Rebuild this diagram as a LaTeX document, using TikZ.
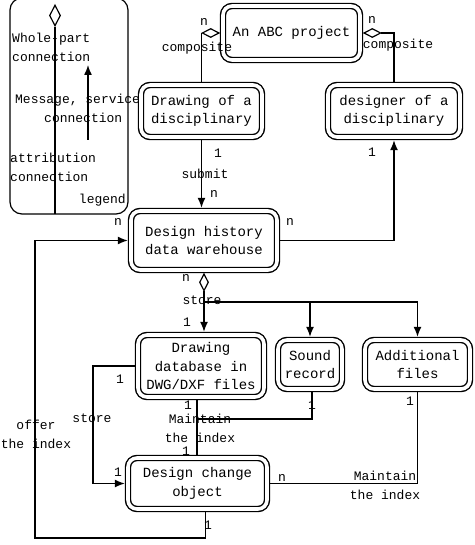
\documentclass[tikz,border=0pt]{standalone}
\usepackage{fontspec}
\setmainfont{Liberation Mono}
\usetikzlibrary{arrows.meta,shapes.geometric}
\begin{document}
\begin{tikzpicture}[x=1pt,y=-1pt,
  box/.style={draw, double, double distance=3.6pt, line width=1.4pt, rounded corners=9pt,
    align=center, font=\fontsize{14pt}{18.5pt}\selectfont, inner sep=1pt, outer sep=3.2pt, fill=white},
  lbl/.style={font=\fontsize{13pt}{19pt}\selectfont, inner sep=0pt},
  con/.style={line width=1.4pt},
  arr/.style={con, -{Latex[length=10pt,width=8pt]}},
  diam/.style={draw, diamond, fill=white, line width=1.2pt, inner sep=0pt,
    minimum width=17pt, minimum height=9pt},
]
\useasboundingbox (0,0) rectangle (474,545);
% legend
\draw[line width=1.2pt, rounded corners=12pt] (10,-2) rectangle (128,214);
\node[diam, minimum width=11pt, minimum height=21pt] (ldm) at (55,15.5) {};
\coordinate (lbot) at (55,214);
\draw[con] (ldm.south) -- (lbot);
\coordinate (la1) at (88,140);
\coordinate (la2) at (88,65);
\draw[arr] (la1) -- (la2);
\node[lbl, anchor=west, align=left] (lt1) at (12,47) {Whole-part\\connection};
\node[lbl, anchor=west] (lt2) at (15,100) {Message, service};
\node[lbl, anchor=west] (lt3) at (44,118) {connection};
\node[lbl, anchor=west, align=left] (lt4) at (10,167) {attribution\\connection};
\node[lbl, anchor=east] (lt5) at (126,200) {legend};

% boxes
\node[box, minimum width=137pt, minimum height=54pt] (abc) at (291.5,33) {An ABC project};
\node[box, minimum width=121pt, minimum height=52pt] (drw) at (201.5,111) {Drawing of a\\disciplinary};
\node[box, minimum width=132pt, minimum height=52pt] (dsg) at (394,111) {designer of a\\disciplinary};
\node[box, minimum width=146pt, minimum height=59pt] (hist) at (204,240.5) {Design history\\data warehouse};
\node[box, minimum width=126pt, minimum height=62pt] (dwg) at (201,366) {Drawing\\database in\\DWG/DXF files};
\node[box, minimum width=64pt, minimum height=49pt] (snd) at (310,364.5) {Sound\\record};
\node[box, minimum width=105pt, minimum height=49pt] (add) at (417.5,364.5) {Additional\\files};
\node[box, minimum width=139pt, minimum height=51pt] (chg) at (197.5,483.5) {Design change\\object};

% composite links
\node[diam, anchor=east] (dl) at (abc.west) {};
\draw[con] (dl.west) -- (dl.west |- drw.north);
\node[diam, anchor=west] (dr) at (abc.east) {};
\draw[con] (dr.east) -| (dsg.north);

% submit
\draw[arr] (drw.south) -- (drw.south |- hist.north);
% history to designer
\draw[arr] (hist.east) -| (dsg.south);

% store
\node[diam, minimum width=9pt, minimum height=17pt, anchor=north] (dh) at (hist.south) {};
\draw[arr] (dh.south) -- (dh.south |- dwg.north);
\coordinate (br) at (204,302);
\draw[arr] (br) -| (add.north);
\draw[arr] (snd.north |- br) -- (snd.north);

% dwg to change (store)
\draw[arr] (dwg.west) -- ++(-42,0) |- (chg.west);
% maintain the index (middle)
\draw[con] ([xshift=-4pt]dwg.south) -- ([xshift=-4pt]dwg.south |- chg.north);
\coordinate (jn) at (197,419);
\draw[con] ([xshift=2pt]snd.south) |- (jn);
% additional to change
\draw[con] (add.south) |- (chg.east);
% offer the index
\coordinate (lp) at (35,538);
\draw[arr] ([xshift=8pt]chg.south) |- (lp) |- (hist.west);

% labels
\node[lbl] (n1) at (204,22) {n};
\node[lbl] (c1) at (197,48) {composite};
\node[lbl] (n2) at (372,20) {n};
\node[lbl] (c2) at (398,45) {composite};
\node[lbl] (n3) at (218,153) {1};
\node[lbl] (s1) at (205,174) {submit};
\node[lbl] (n4) at (214,194) {n};
\node[lbl] (n5) at (372,152) {1};
\node[lbl] (n6) at (290,222) {n};
\node[lbl] (n7) at (118,222) {n};
\node[lbl] (n8) at (186,278) {n};
\node[lbl] (s2) at (202,300) {store};
\node[lbl] (n9) at (187,322) {1};
\node[lbl] (n10) at (120,379) {1};
\node[lbl] (s3) at (92,418) {store};
\node[lbl] (n11) at (118,472) {1};
\node[lbl] (n12) at (188,405) {1};
\node[lbl, align=center] (m1) at (200,428) {Maintain\\the index};
\node[lbl] (n13) at (186,451) {1};
\node[lbl] (n14) at (312,405) {1};
\node[lbl] (n15) at (410,401) {1};
\node[lbl, align=center] (m2) at (385,485) {Maintain\\the index};
\node[lbl] (n16) at (282,478) {n};
\node[lbl] (n17) at (208,525) {1};
\node[lbl, align=center] (o1) at (36,434) {offer\\the index};
\end{tikzpicture}
\end{document}
